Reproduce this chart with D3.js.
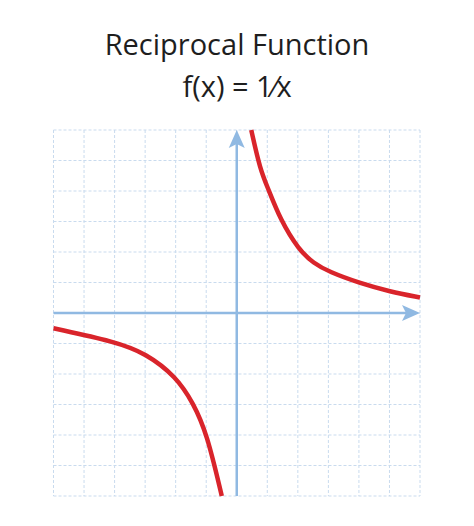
<!DOCTYPE html><html><head><meta charset="utf-8"><script src="https://cdn.jsdelivr.net/npm/d3@7"></script>
<style>body{margin:0;background:#fff}</style></head><body><svg id="c" width="474" height="526"></svg>
<script>
const ticks = [-6,-5,-4,-3,-2,-1,0,1,2,3,4,5,6];
const rightX = [0.475,0.77,1.02,1.43,2.03,2.52,3.02,4.02,5.02,6.0];
const rightY = [6,4.69,4.1,3.05,2.07,1.63,1.35,0.98,0.70,0.51];
const leftX = [-6,-3.98,-2.98,-1.98,-1.42,-0.98,-0.49];
const leftY = [-0.5,-0.94,-1.32,-2.09,-2.96,-3.94,-6];
const svg = d3.select("#c");
const x = d3.scaleLinear().domain([-6,6]).range([53.5,420]);
const y = d3.scaleLinear().domain([-6,6]).range([496,130]);
const grid = svg.append("g").attr("stroke","#c9dbee").attr("stroke-width",1).attr("stroke-dasharray","3,2");
grid.selectAll(".v").data(ticks).join("line").attr("x1",d=>x(d)).attr("x2",d=>x(d)).attr("y1",y(6)).attr("y2",y(-6));
grid.selectAll(".h").data(ticks).join("line").attr("y1",d=>y(d)).attr("y2",d=>y(d)).attr("x1",x(-6)).attr("x2",x(6));
const ac="#90b9e2";
svg.append("line").attr("x1",x(-6)).attr("x2",x(6)-10).attr("y1",y(0)).attr("y2",y(0)).attr("stroke",ac).attr("stroke-width",2.5);
svg.append("line").attr("x1",x(0)).attr("x2",x(0)).attr("y1",y(-6)).attr("y2",y(6)+10).attr("stroke",ac).attr("stroke-width",2.5);
svg.append("path").attr("d",`M${x(6)},${y(0)} L${x(6)-18},${y(0)-8} L${x(6)-14},${y(0)} L${x(6)-18},${y(0)+8}Z`).attr("fill",ac);
svg.append("path").attr("d",`M${x(0)},${y(6)} L${x(0)-8},${y(6)+18} L${x(0)},${y(6)+14} L${x(0)+8},${y(6)+18}Z`).attr("fill",ac);
const line = d3.line().x(d=>x(d[0])).y(d=>y(d[1])).curve(d3.curveBasis);
[[rightX,rightY],[leftX,leftY]].forEach(([xs,ys])=>{
 svg.append("path").attr("d",line(xs.map((v,i)=>[v,ys[i]]))).attr("fill","none").attr("stroke","#d9242b").attr("stroke-width",4.5);
});
svg.append("text").attr("x",237).attr("y",55).attr("text-anchor","middle").attr("font-family","'Open Sans', sans-serif").attr("font-size",29).attr("fill","#1e1e1e").text("Reciprocal Function");
svg.append("text").attr("x",237).attr("y",97).attr("text-anchor","middle").attr("font-family","'Open Sans', sans-serif").attr("font-size",29).attr("fill","#1e1e1e").text("f(x) = 1⁄x");
</script></body></html>
